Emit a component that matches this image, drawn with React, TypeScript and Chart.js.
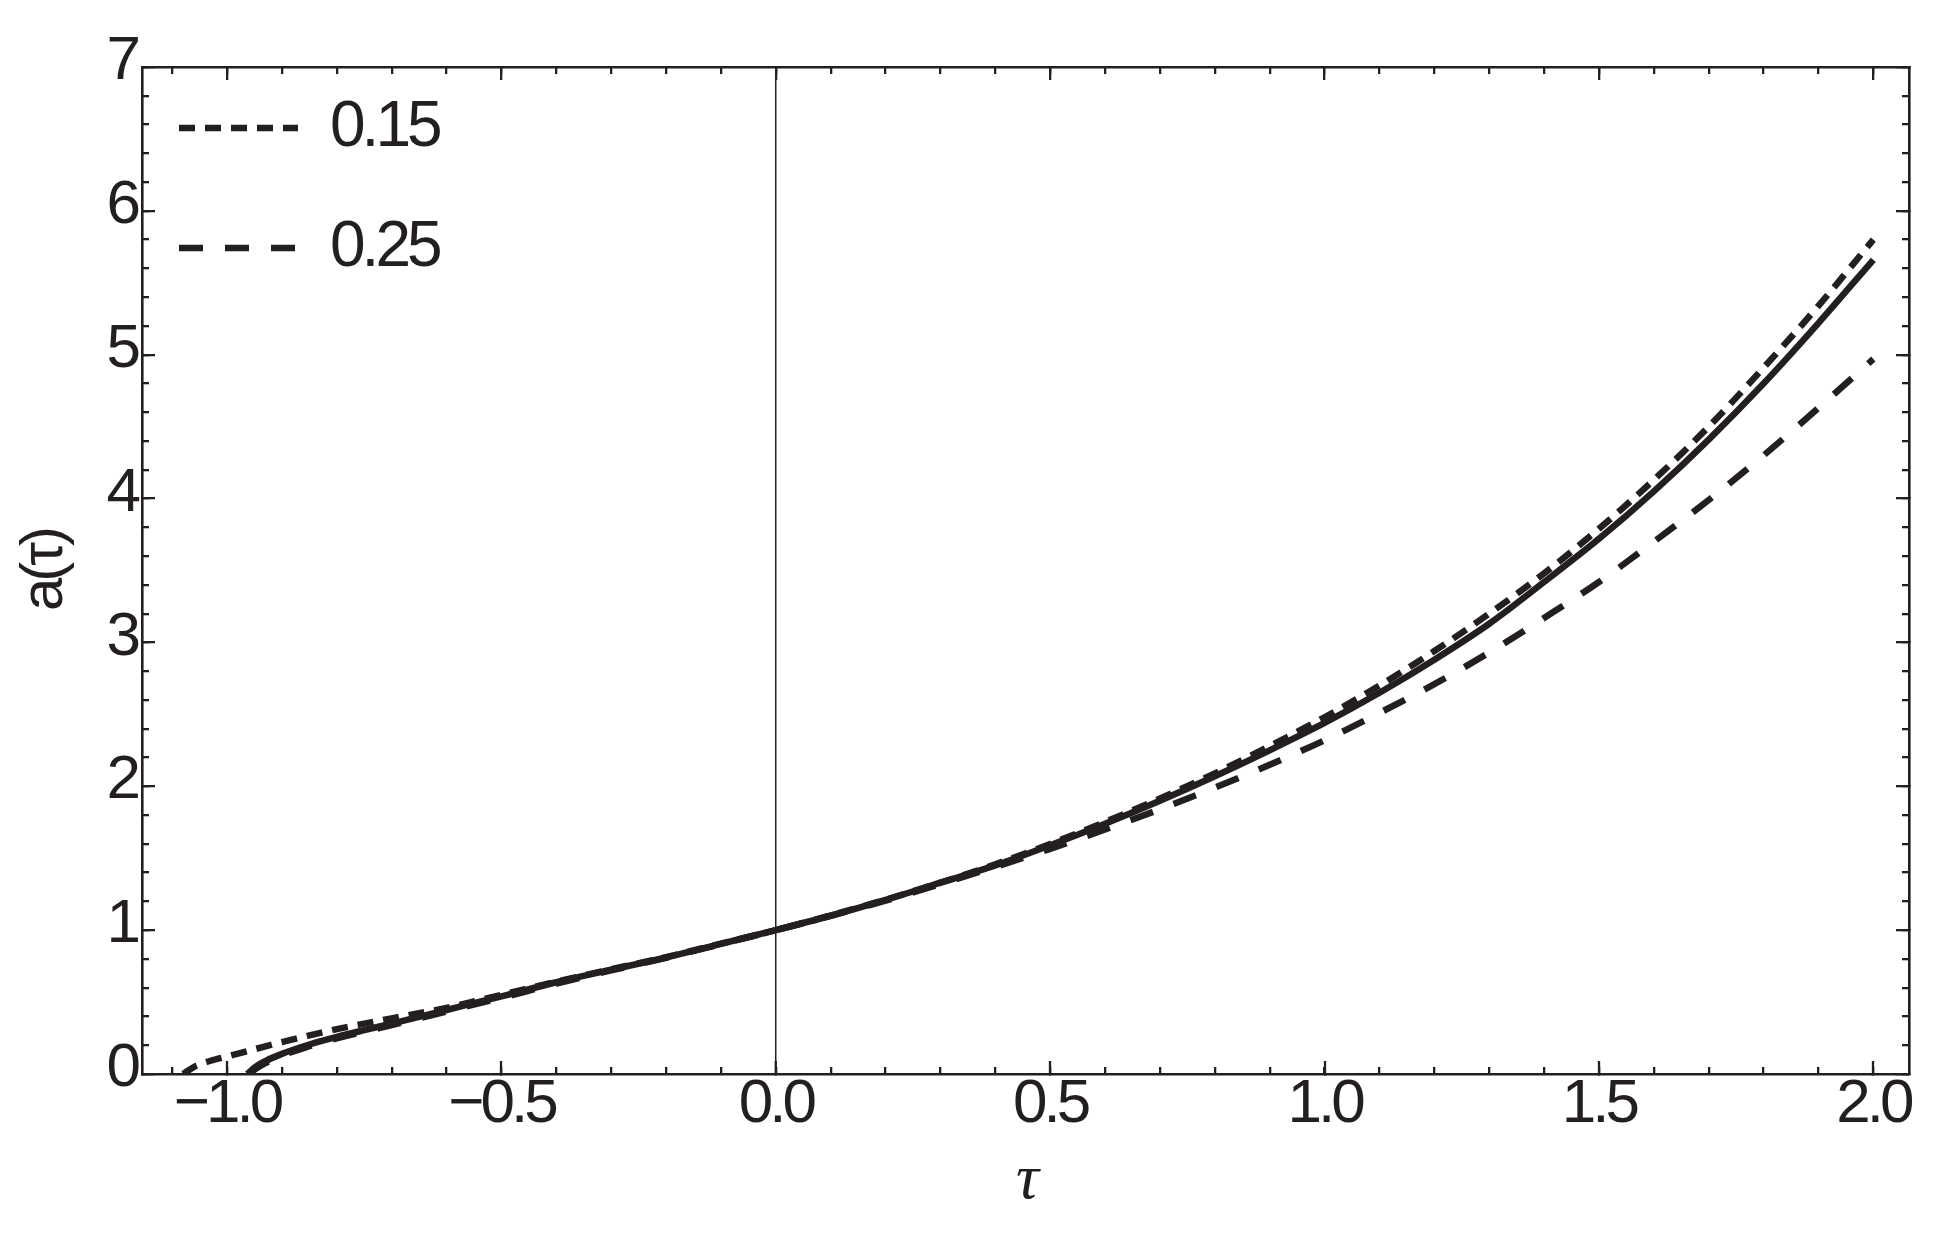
import React, { useEffect, useRef } from 'react';
import { Chart, registerables } from 'chart.js';

Chart.register(...registerables);

// a(τ) curves
const TAU_SOLID = [-0.963, -0.95, -0.93, -0.9, -0.85, -0.8, -0.75, -0.7, -0.6, -0.5, -0.4, -0.3, -0.2, -0.1, 0, 0.1, 0.2, 0.3, 0.4, 0.5, 0.6, 0.7, 0.8, 0.9, 1.0, 1.1, 1.2, 1.3, 1.4, 1.5, 1.6, 1.7, 1.8, 1.9, 2.0];
const A_SOLID = [0, 0.045, 0.09, 0.14, 0.205, 0.258, 0.305, 0.35, 0.445, 0.54, 0.638, 0.725, 0.81, 0.905, 1.0, 1.1, 1.21, 1.33, 1.45, 1.59, 1.74, 1.9, 2.07, 2.25, 2.44, 2.65, 2.88, 3.13, 3.42, 3.72, 4.05, 4.41, 4.8, 5.22, 5.66];

const TAU_015 = [-1.08, -1.06, -1.03, -1.0, -0.95, -0.9, -0.85, -0.8, -0.75, -0.7, -0.6, -0.5, -0.4, -0.3, -0.2, -0.1, 0, 0.2, 0.4, 0.6, 0.8, 0.9, 1.0, 1.1, 1.2, 1.3, 1.4, 1.5, 1.6, 1.7, 1.8, 1.9, 2.0];
const A_015 = [0, 0.05, 0.092, 0.122, 0.172, 0.222, 0.268, 0.312, 0.35, 0.387, 0.46, 0.55, 0.642, 0.728, 0.812, 0.906, 1.0, 1.212, 1.458, 1.752, 2.09, 2.28, 2.48, 2.7, 2.94, 3.2, 3.48, 3.79, 4.13, 4.5, 4.91, 5.34, 5.8];

const TAU_025 = [-0.962, -0.94, -0.9, -0.85, -0.8, -0.7, -0.6, -0.5, -0.4, -0.3, -0.2, -0.1, 0, 0.1, 0.2, 0.3, 0.4, 0.5, 0.6, 0.7, 0.8, 0.9, 1.0, 1.1, 1.2, 1.3, 1.4, 1.5, 1.6, 1.7, 1.8, 1.9, 2.0];
const A_025 = [0, 0.055, 0.128, 0.193, 0.248, 0.34, 0.435, 0.53, 0.628, 0.72, 0.808, 0.903, 1.0, 1.1, 1.205, 1.32, 1.44, 1.565, 1.7, 1.84, 1.99, 2.15, 2.32, 2.51, 2.71, 2.93, 3.17, 3.42, 3.7, 3.99, 4.3, 4.63, 4.97];

const X_MAJOR_TICKS = [-1.0, -0.5, 0.0, 0.5, 1.0, 1.5, 2.0];
const Y_MAJOR_TICKS = [0, 1, 2, 3, 4, 5, 6, 7];

const INK = '#231f20';
const SANS = "'Liberation Sans', Arial, sans-serif";
const SERIF = "'Liberation Serif', 'Times New Roman', serif";
const LINE_W = 6.5;

const zip = (xs: number[], ys: number[]) => xs.map((x, i) => ({ x, y: ys[i] }));

// axis box sizes, so the plot frame lands where it is in the figure
const fixSize = (px: number) => (scale: any) => {
  if (scale.isHorizontal()) scale.height = px;
  else scale.width = px;
};
const setTicks = (values: number[]) => (scale: any) => {
  scale.ticks = values.map((value) => ({ value }));
};
const fmtX = (v: number | string) => {
  const n = Number(v);
  return (n < 0 ? '\u2212' : '') + Math.abs(n).toFixed(1);
};

// Mathematica-like tight digits
const tightText = {
  id: 'tightText',
  beforeUpdate(chart: any) { chart.ctx.letterSpacing = '-4px'; },
  beforeDraw(chart: any) { chart.ctx.letterSpacing = '-4px'; },
};

// the vertical legend gets top = 0 from its own layout, so push it down into the plot corner
const legendNudge = {
  id: 'legendNudge',
  afterLayout(chart: any) {
    const lg = chart.legend;
    if (lg) {
      lg.left += -19;
      lg.top = 40;
    }
  },
};

const majorGrid = { drawOnChartArea: false, color: INK, lineWidth: 2.3, tickLength: -13 };
const minorGrid = { drawOnChartArea: false, color: INK, lineWidth: 2.3, tickLength: -7 };
const frameBorder = { display: true, color: INK, width: 2.6 };
const noBorder = { display: false };

const App: React.FC = () => {
  const canvasRef = useRef<HTMLCanvasElement>(null);

  useEffect(() => {
    if (!canvasRef.current) return;
    const lineStyle = {
      borderColor: INK,
      backgroundColor: INK,
      borderWidth: LINE_W,
      pointRadius: 0,
      fill: false,
      cubicInterpolationMode: 'monotone' as const,
      xAxisID: 'x',
      yAxisID: 'y',
    };

    const chart = new Chart(canvasRef.current, {
      type: 'line',
      data: {
        datasets: [
          { ...lineStyle, label: 'a(τ)', data: zip(TAU_SOLID, A_SOLID) },
          { ...lineStyle, label: '0.15', data: zip(TAU_015, A_015), borderDash: [16, 10] },
          { ...lineStyle, label: '0.25', data: zip(TAU_025, A_025), borderDash: [24, 22] },
        ],
      },
      options: {
        responsive: false,
        animation: false,
        events: [],
        layout: { padding: { top: 67, right: 42, bottom: 0, left: 0 } },
        scales: {
          x: {
            type: 'linear',
            position: 'bottom',
            min: -1.155,
            max: 2.065,
            weight: 1,
            afterBuildTicks: setTicks(X_MAJOR_TICKS),
            afterFit: fixSize(166),
            grid: {
              drawOnChartArea: true,
              color: (c: any) => (c.tick && c.tick.value === 0 ? INK : 'rgba(0,0,0,0)'),
              lineWidth: (c: any) => (c.tick && c.tick.value === 0 ? 1.5 : 0),
              tickColor: INK,
              tickWidth: 2.3,
              tickLength: -13,
            },
            border: frameBorder,
            ticks: {
              padding: 7,
              maxRotation: 0,
              autoSkip: false,
              color: INK,
              font: { family: SANS, size: 62 },
              callback: fmtX,
            },
            title: {
              display: true,
              text: 'τ',
              color: INK,
              font: { family: SERIF, style: 'italic', size: 64 },
              padding: { top: 0, bottom: 20 },
            },
          },
          xMinor: {
            type: 'linear',
            position: 'bottom',
            min: -1.155,
            max: 2.065,
            weight: 0,
            afterFit: fixSize(0),
            grid: minorGrid,
            border: noBorder,
            ticks: { display: false, stepSize: 0.1, includeBounds: false },
          },
          xTop: {
            type: 'linear',
            position: 'top',
            min: -1.155,
            max: 2.065,
            weight: 1,
            afterBuildTicks: setTicks(X_MAJOR_TICKS),
            afterFit: fixSize(0),
            grid: majorGrid,
            border: frameBorder,
            ticks: { display: false },
          },
          xTopMinor: {
            type: 'linear',
            position: 'top',
            min: -1.155,
            max: 2.065,
            weight: 0,
            afterFit: fixSize(0),
            grid: minorGrid,
            border: noBorder,
            ticks: { display: false, stepSize: 0.1, includeBounds: false },
          },
          y: {
            type: 'linear',
            position: 'left',
            min: 0,
            max: 7,
            weight: 1,
            afterBuildTicks: setTicks(Y_MAJOR_TICKS),
            afterFit: fixSize(142),
            grid: majorGrid,
            border: frameBorder,
            ticks: {
              padding: 18,
              labelOffset: -5,
              color: INK,
              font: { family: SANS, size: 62 },
              callback: (v: number | string) => String(v),
            },
            title: {
              display: true,
              text: 'a(τ)',
              color: INK,
              font: { family: SANS, size: 60 },
              padding: { top: 9, bottom: 0 },
            },
          },
          yMinor: {
            type: 'linear',
            position: 'left',
            min: 0,
            max: 7,
            weight: 0,
            afterFit: fixSize(0),
            grid: minorGrid,
            border: noBorder,
            ticks: { display: false, stepSize: 0.2, includeBounds: false },
          },
          yRight: {
            type: 'linear',
            position: 'right',
            min: 0,
            max: 7,
            weight: 1,
            afterBuildTicks: setTicks(Y_MAJOR_TICKS),
            afterFit: fixSize(0),
            grid: majorGrid,
            border: frameBorder,
            ticks: { display: false },
          },
          yRightMinor: {
            type: 'linear',
            position: 'right',
            min: 0,
            max: 7,
            weight: 0,
            afterFit: fixSize(0),
            grid: minorGrid,
            border: noBorder,
            ticks: { display: false, stepSize: 0.2, includeBounds: false },
          },
        },
        plugins: {
          tooltip: { enabled: false },
          legend: {
            position: 'chartArea',
            align: 'start',
            labels: {
              color: INK,
              font: { family: SANS, size: 64 },
              usePointStyle: true,
              pointStyle: 'line',
              pointStyleWidth: 119,
              boxWidth: 119,
              padding: 56,
              generateLabels: (c: any) =>
                c.data.datasets
                  .map((ds: any, i: number) => ({
                    text: ds.label,
                    datasetIndex: i,
                    strokeStyle: INK,
                    fillStyle: INK,
                    fontColor: INK,
                    lineWidth: LINE_W,
                    lineDash: ds.borderDash || [],
                    lineCap: 'butt',
                    pointStyle: 'line',
                    hidden: false,
                  }))
                  .filter((it: any) => it.datasetIndex !== 0),
            },
          },
        },
      },
      plugins: [tightText, legendNudge],
    } as any);

    return () => {
      chart.destroy();
    };
  }, []);

  return (
    <div style={{ position: 'absolute', left: 0, top: 0, width: 1951, height: 1240, background: '#fff' }}>
      <canvas ref={canvasRef} width={1951} height={1240} style={{ display: 'block' }} />
    </div>
  );
};

export default App;
